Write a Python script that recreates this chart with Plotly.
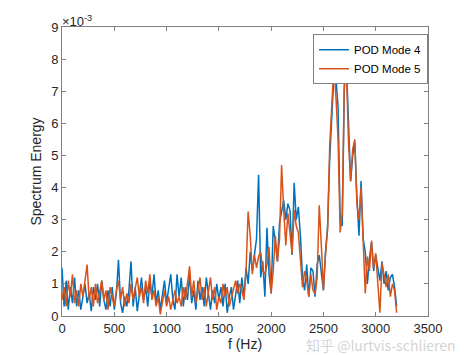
import numpy as np
import plotly.graph_objects as go

# frequency bins (Hz)
freq = np.arange(0, 3201, 20)

# Spectrum energy, units of 1e-3
mode4 = [
    1.5, 0.3, 1.1, 0.2, 0.9, 0.4, 1.2, 0.3, 0.8, 0.2,
    0.6, 1.0, 0.4, 0.7, 0.15, 0.9, 0.5, 1.0, 0.3, 1.1,
    0.5, 0.2, 0.8, 0.3, 0.9, 0.2, 0.7, 1.75, 0.4, 0.1,
    0.6, 0.3, 0.8, 1.7, 0.3, 0.9, 0.15, 0.7, 1.2, 0.5,
    0.9, 0.3, 1.1, 0.6, 1.3, 0.4, 0.8, 0.2, 0.6, 1.1,
    0.4, 0.8, 1.3, 0.5, 0.2, 1.3, 0.6, 1.2, 0.3, 0.9,
    0.5, 1.3, 0.4, 0.8, 0.2, 1.1, 0.5, 0.9, 0.3, 1.2,
    0.6, 0.2, 0.8, 0.4, 1.0, 0.5, 0.9, 0.3, 1.0, 0.1,
    0.6, 0.9, 0.2, 0.7, 1.1, 0.4, 1.2, 0.6, 1.5, 1.0,
    2.0, 1.4, 1.9, 2.4, 4.4, 1.2, 1.7, 0.6, 2.75, 1.3,
    0.7, 2.8, 2.3, 1.7, 2.9, 3.2, 3.6, 3.0, 3.5, 3.3,
    1.9, 4.15, 3.0, 3.4, 2.5, 1.2, 0.8, 1.6, 0.6, 1.5,
    1.4, 0.6, 1.6, 1.9, 1.3, 0.8, 2.0, 2.8, 4.9, 6.2,
    7.5, 7.4, 6.5, 3.0, 2.8, 7.1, 7.8, 6.0, 4.2, 5.0,
    5.4, 3.7, 2.5, 4.2, 2.4, 2.0, 1.0, 1.8, 2.3, 1.4,
    1.9, 1.5, 1.1, 1.7, 1.0, 1.4, 0.8, 1.2, 1.3, 0.9,
    0.3,
]
mode5 = [
    0.5, 0.9, 0.3, 1.1, 0.6, 1.3, 0.4, 0.8, 0.3, 1.0,
    0.6, 1.2, 1.6, 0.5, 0.9, 0.3, 1.0, 0.4, 0.7, 1.1,
    0.5, 0.8, 0.2, 0.9, 0.6, 0.3, 0.8, 1.1, 0.5, 0.9,
    0.3, 0.7, 0.4, 1.0, 0.5, 0.8, 1.2, 0.6, 0.9, 0.4,
    1.1, 0.7, 1.3, 0.5, 0.8, 0.3, 0.6, 0.05, 0.5, 0.8,
    0.3, 0.6, 0.2, 0.5, 0.8, 0.4, 0.6, 0.3, 0.9, 0.5,
    1.0, 1.55, 0.6, 1.1, 0.4, 0.8, 1.2, 0.5, 0.9, 0.3,
    0.7, 1.2, 0.5, 0.9, 0.2, 0.6, 0.4, 1.0, 0.6, 0.9,
    0.3, 0.6, 0.8, 1.1, 0.7, 1.0, 0.8, 0.5, 1.4, 3.25,
    2.5, 1.3, 1.9, 1.5, 1.85, 2.0, 1.4, 1.3, 1.6, 2.15,
    0.7, 1.4, 2.5, 1.7, 2.4, 4.7, 3.3, 2.2, 3.2, 2.6,
    1.95, 3.3, 2.8, 2.6, 1.75, 0.9, 1.4, 1.1, 0.6, 1.3,
    0.8, 0.7, 1.2, 3.45, 2.2, 0.8, 1.9, 2.7, 5.3, 6.4,
    7.8, 6.8, 5.5, 2.6, 3.2, 7.4, 7.6, 5.4, 4.2, 5.2,
    5.5, 3.5, 3.0, 4.0, 2.1, 0.7, 1.85, 1.4, 2.35, 1.5,
    1.95, 1.0, 0.1, 1.65, 1.2, 0.9, 1.3, 0.6, 1.0, 0.8,
    0.1,
]

x_ticks = [0, 500, 1000, 1500, 2000, 2500, 3000, 3500]
y_ticks = [0, 1, 2, 3, 4, 5, 6, 7, 8, 9]

scale = 1e-3
fig = go.Figure()
fig.add_trace(go.Scatter(x=freq, y=[v * scale for v in mode4], mode="lines",
                         name="POD Mode 4", line=dict(color="#0072BD", width=1.5)))
fig.add_trace(go.Scatter(x=freq, y=[v * scale for v in mode5], mode="lines",
                         name="POD Mode 5", line=dict(color="#D95319", width=1.5)))

font = "Liberation Sans, Arial, sans-serif"
axis_common = dict(showline=True, linecolor="#808080", linewidth=1, mirror="ticks",
                   ticks="inside", ticklen=4, tickcolor="#808080", showgrid=False,
                   zeroline=False, automargin=False,
                   tickfont=dict(family=font, size=13, color="#262626"))

fig.update_layout(
    width=466, height=347,
    margin=dict(l=54, r=46, t=19, b=39),
    paper_bgcolor="white", plot_bgcolor="white",
    xaxis=dict(range=[0, 3500], tickvals=x_ticks, ticktext=[str(t) for t in x_ticks],
               title=dict(text="f (Hz)", font=dict(family=font, size=14, color="#262626"), standoff=2),
               **axis_common),
    yaxis=dict(range=[0, 9 * scale], tickvals=[t * scale for t in y_ticks],
               ticktext=[str(t) for t in y_ticks],
               title=dict(text="Spectrum Energy", font=dict(family=font, size=14, color="#262626"), standoff=6),
               **axis_common),
    legend=dict(x=1, y=0.975, xanchor="right", yanchor="top", bgcolor="white",
                bordercolor="#808080", borderwidth=1,
                font=dict(family=font, size=11.5, color="#000000"),
                tracegroupgap=0, itemwidth=30),
    showlegend=True,
)
fig.add_annotation(text="×10<sup>-3</sup>", xref="paper", yref="paper", x=0, y=1,
                   xanchor="left", yanchor="bottom", showarrow=False,
                   font=dict(family=font, size=13, color="#262626"), xshift=-2, yshift=-4)
fig.add_annotation(text="知乎 @lurtvis-schlieren", xref="paper", yref="paper", x=1, y=0,
                   xanchor="left", yanchor="top", showarrow=False, xshift=-124, yshift=-17,
                   font=dict(family="Noto Sans CJK SC", size=14, color="rgba(200,200,200,0.8)"))

fig.write_html("out.html")
